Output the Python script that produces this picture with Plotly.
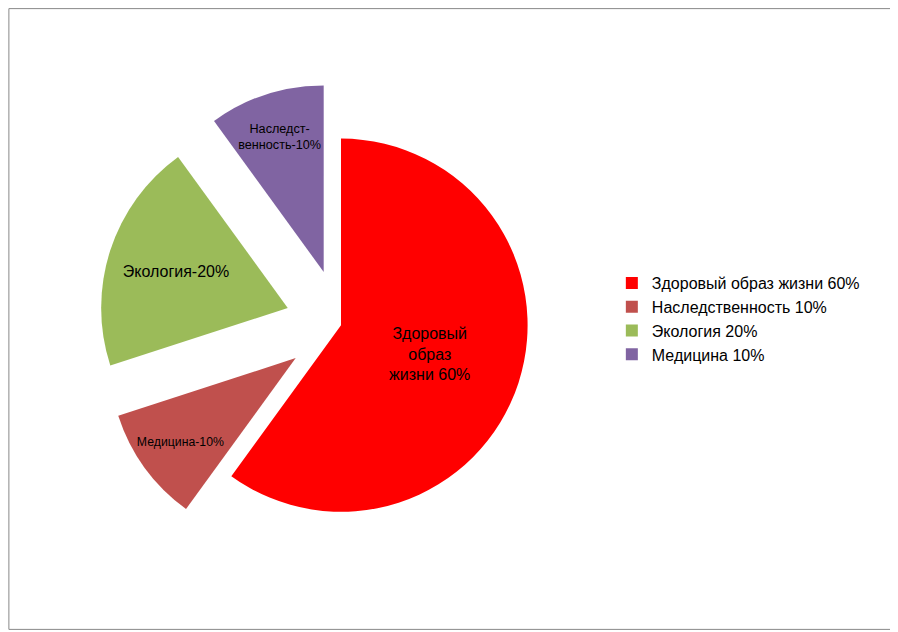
import plotly.graph_objects as go

labels = ["Здоровый образ жизни 60%", "Наследственность 10%", "Экология 20%", "Медицина 10%"]
values = [60, 10, 20, 10]
slice_text = ["Здоровый<br>образ<br>жизни 60%", "Медицина-10%", "Экология-20%", "Наследст-<br>венность-10%"]
colors = ["#FF0000", "#C0504D", "#9BBB59", "#8064A2"]
pulls = [0, 0.3, 0.3, 0.3]

fig = go.Figure(go.Pie(
    labels=labels, values=values, text=slice_text, textinfo="text",
    textposition="inside", insidetextorientation="horizontal",
    marker=dict(colors=colors), pull=pulls, sort=False, direction="clockwise",
    rotation=0, textfont=dict(color="black", size=16),
    domain=dict(x=[0.07, 0.68], y=[0.1, 0.88])
))
fig.update_layout(
    width=888, height=622, margin=dict(l=0, r=0, t=0, b=0),
    paper_bgcolor="white", font=dict(family="Liberation Sans, Arial", size=16, color="black"),
    legend=dict(x=0.68, y=0.5, yanchor="middle", font=dict(size=16)),
    shapes=[dict(type="rect", xref="paper", yref="paper", x0=0.001, y0=0.001, x1=0.999, y1=0.999,
                 line=dict(color="#888888", width=1))]
)
fig.write_html("out.html")
